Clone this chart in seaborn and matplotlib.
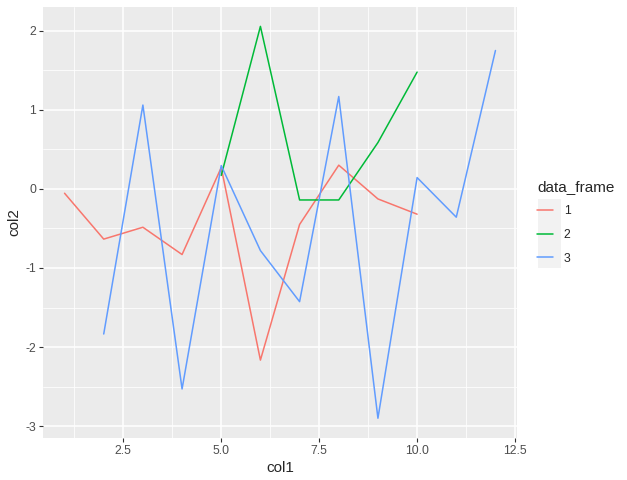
import seaborn as sns
import pandas as pd
import matplotlib.pyplot as plt
from matplotlib.patches import Rectangle

# values
x1 = [1, 2, 3, 4, 5, 6, 7, 8, 9, 10]
y1 = [-0.055, -0.635, -0.485, -0.83, 0.27, -2.165, -0.45, 0.30, -0.127, -0.32]
x2 = [5, 6, 7, 8, 9, 10]
y2 = [0.17, 2.055, -0.14, -0.14, 0.586, 1.477]
x3 = [2, 3, 4, 5, 6, 7, 8, 9, 10, 11, 12]
y3 = [-1.835, 1.06, -2.53, 0.295, -0.78, -1.426, 1.168, -2.90, 0.143, -0.358, 1.75]
groups = ['1', '2', '3']
colors = ['#F8766D', '#00BA38', '#619CFF']

df = pd.concat([
    pd.DataFrame({'col1': x1, 'col2': y1, 'data_frame': groups[0]}),
    pd.DataFrame({'col1': x2, 'col2': y2, 'data_frame': groups[1]}),
    pd.DataFrame({'col1': x3, 'col2': y3, 'data_frame': groups[2]}),
])

sns.set_theme(style='darkgrid', rc={
    'axes.facecolor': '#EBEBEB', 'grid.color': 'white',
    'xtick.color': '#4D4D4D', 'ytick.color': '#4D4D4D',
})
plt.rcParams['font.family'] = ['Liberation Sans', 'DejaVu Sans']
plt.rcParams['axes.unicode_minus'] = False

fig = plt.figure(figsize=(6.27, 4.8), dpi=100)
ax = fig.add_axes([43 / 627, 1 - 438 / 480, (517 - 43) / 627, (438 - 7) / 480])

sns.lineplot(data=df, x='col1', y='col2', hue='data_frame', palette=colors,
             hue_order=groups, linewidth=1.1, ax=ax, estimator=None, sort=False)

ax.set_xlim(0.45, 12.55)
ax.set_ylim(-3.15, 2.30)
ax.set_xticks([2.5, 5.0, 7.5, 10.0, 12.5])
ax.set_xticklabels(['2.5', '5.0', '7.5', '10.0', '12.5'])
ax.set_yticks([-3, -2, -1, 0, 1, 2])
ax.set_xticks([1.25, 3.75, 6.25, 8.75, 11.25], minor=True)
ax.set_yticks([-2.5, -1.5, -0.5, 0.5, 1.5], minor=True)
ax.grid(which='major', color='white', linewidth=1.1)
ax.grid(which='minor', color='white', linewidth=0.55)
ax.tick_params(which='major', length=3, width=0.8, color='#333333',
               labelsize=8.8, pad=2, bottom=True, left=True)
ax.tick_params(which='minor', length=0)
for s in ax.spines.values():
    s.set_visible(False)
ax.set_xlabel('col1', fontsize=11, labelpad=3)
ax.set_ylabel('col2', fontsize=11, labelpad=3)

# legend on the right, ggplot style
handles, labels = ax.get_legend_handles_labels()
ax.get_legend().remove()
fig.patches.append(Rectangle((538 / 627, 1 - 268 / 480), 23 / 627, 69 / 480,
                             transform=fig.transFigure, facecolor='#F2F2F2',
                             edgecolor='none', zorder=0))
leg = fig.legend(handles, labels, title='data_frame', loc='upper left',
                 bbox_to_anchor=(532 / 627, 1 - 175 / 480), frameon=False,
                 fontsize=8.8, title_fontsize=11, handlelength=1.3,
                 handletextpad=0.9, labelspacing=0.95, borderaxespad=0)
leg._legend_box.align = 'left'

fig.savefig('out.png', dpi=100)
